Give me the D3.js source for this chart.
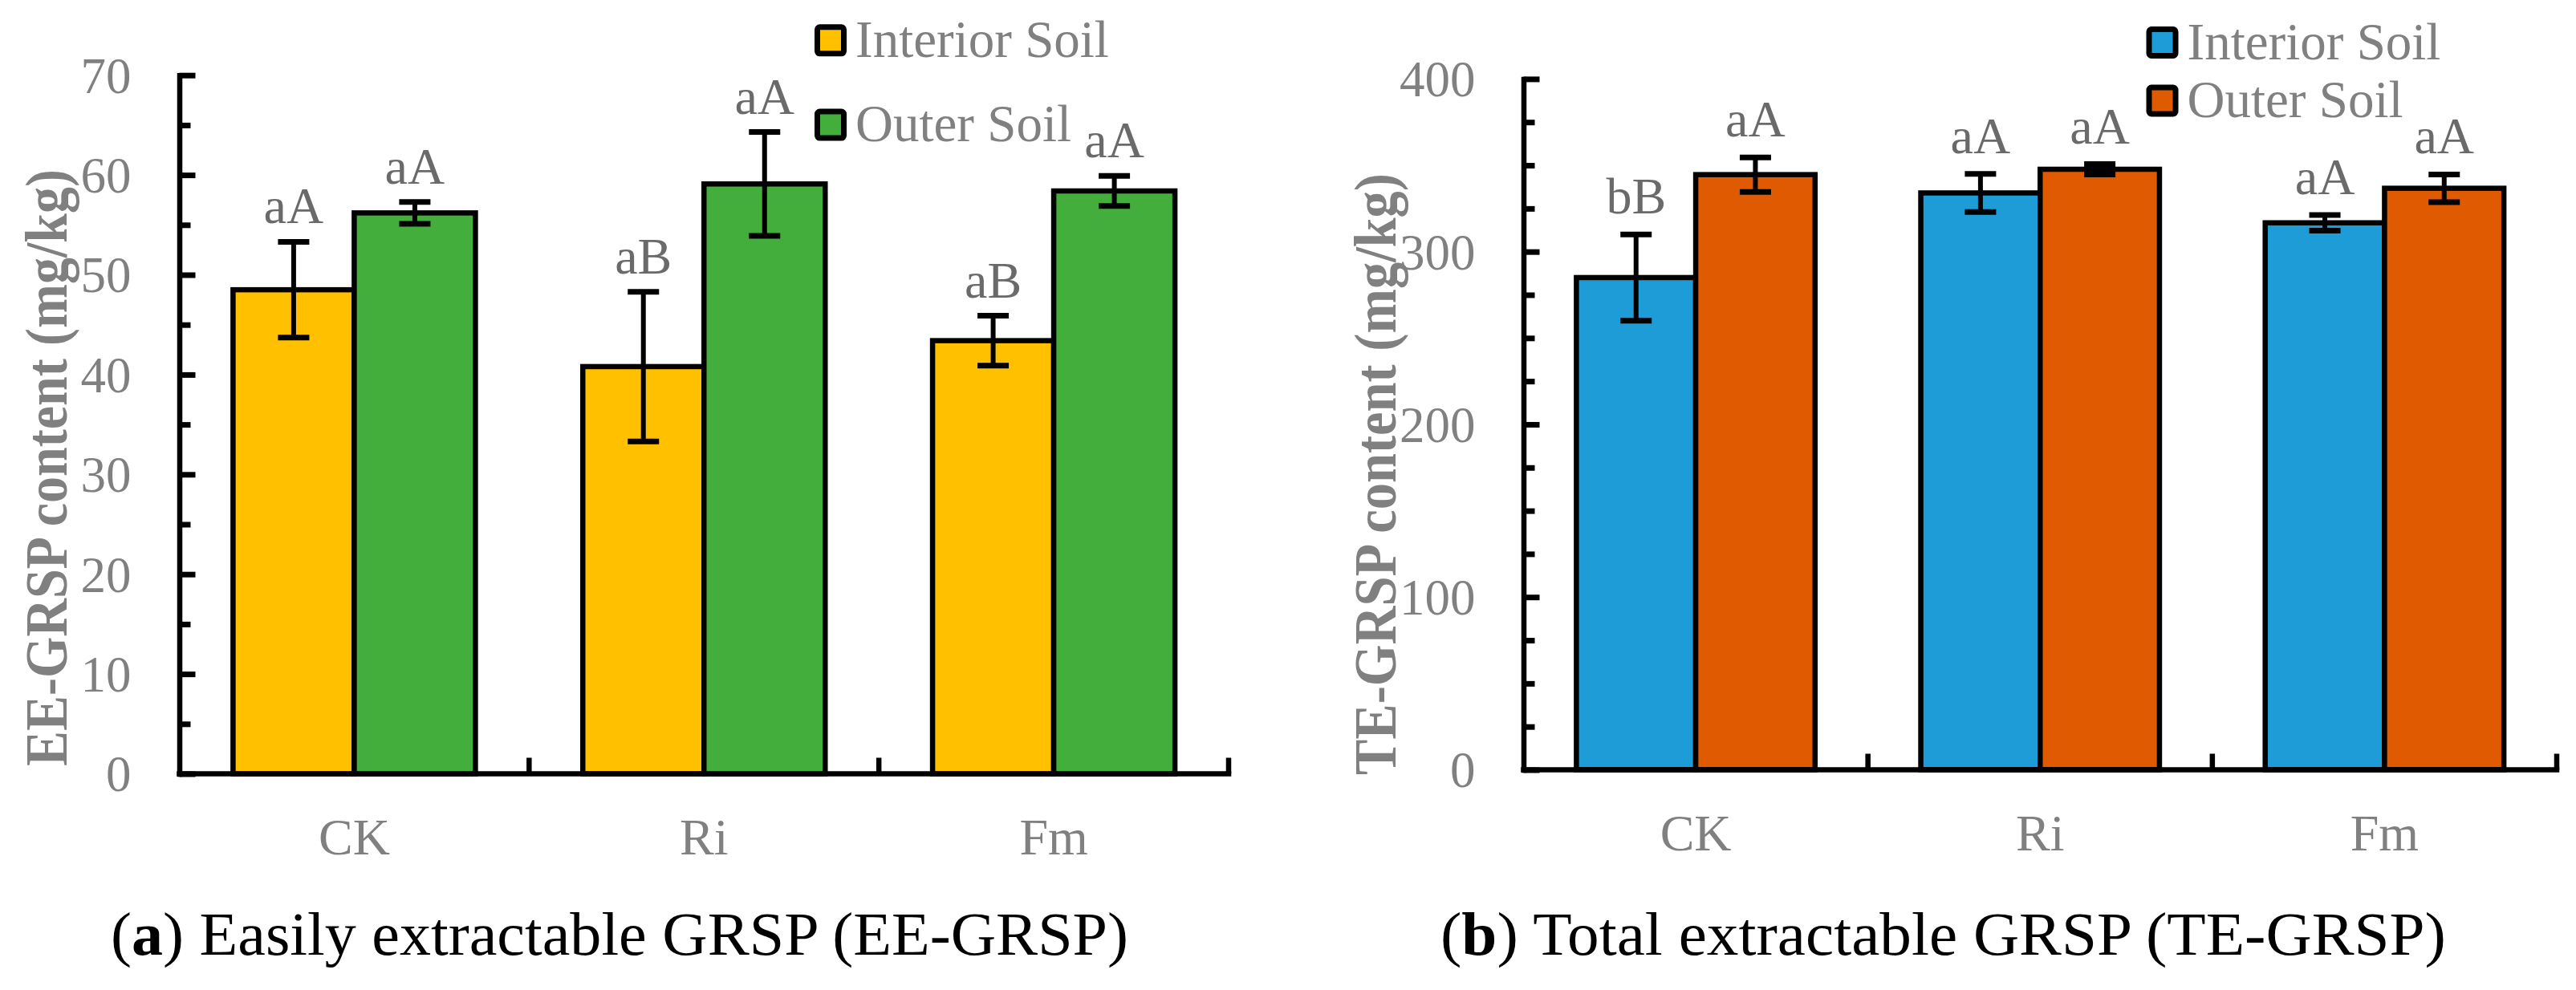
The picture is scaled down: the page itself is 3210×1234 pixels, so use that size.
<!DOCTYPE html>
<html>
<head>
<meta charset="utf-8">
<script src="https://cdn.jsdelivr.net/npm/d3@7"></script>
<style>
  body { margin: 0; background: #fff; }
  text { font-family: "Liberation Serif", "Times New Roman", serif; }
</style>
</head>
<body>
<svg id="fig" width="3210" height="1234"></svg>
<script>
// categories and series
const categories = ["CK", "Ri", "Fm"];
const series = ["Interior Soil", "Outer Soil"];

// (a) EE-GRSP, mg/kg
const eeInterior = [48.5, 40.8, 43.4];
const eeInteriorErr = [4.8, 7.5, 2.5];
const eeOuter = [56.2, 59.1, 58.4];
const eeOuterErr = [1.1, 5.2, 1.5];
const eeInteriorLetters = ["aA", "aB", "aB"];
const eeOuterLetters = ["aA", "aA", "aA"];
const eeMajorTicks = [0, 10, 20, 30, 40, 50, 60, 70];
const eeMinorTicks = [5, 15, 25, 35, 45, 55, 65];

// (b) TE-GRSP, mg/kg
const teInterior = [285, 334, 316.7];
const teInteriorErr = [25, 11, 4.5];
const teOuter = [344.6, 347.7, 336.7];
const teOuterErr = [10, 3, 8];
const teInteriorLetters = ["bB", "aA", "aA"];
const teOuterLetters = ["aA", "aA", "aA"];
const teMajorTicks = [0, 100, 200, 300, 400];
const teMinorTicks = [25, 50, 75, 125, 150, 175, 225, 250, 275, 325, 350, 375];

const svg = d3.select("#fig");
const lw = 6.5;

const drawPanel = (props) => {
  const { x0, x1, yTop, yBottom, yMax, colors, interior, interiorErr, outer, outerErr,
          intLetters, outLetters, major, minor, yTitle, titleX, titleY, titleLen,
          legendX, legendY, legendGap, letterGap, caption, captionX, captionLen } = props;

  const g = svg.append("g");

  const x = d3.scaleBand().domain(categories).range([x0, x1]).padding(0);
  const pairW = x.bandwidth() * 0.693;
  const xs = d3.scaleBand().domain(series).range([0, pairW]);
  const y = d3.scaleLinear().domain([0, yMax]).range([yBottom, yTop]);
  const color = d3.scaleOrdinal().domain(series).range(colors);

  const rows = categories.flatMap((c, i) => [
    { c, s: series[0], v: interior[i], e: interiorErr[i], lab: intLetters[i] },
    { c, s: series[1], v: outer[i], e: outerErr[i], lab: outLetters[i] },
  ]);
  const bx = (d) => x(d.c) + (x.bandwidth() - pairW) / 2 + xs(d.s);

  // bars
  g.selectAll(".bar").data(rows).enter().append("rect")
    .attr("x", bx)
    .attr("y", (d) => y(d.v))
    .attr("width", xs.bandwidth())
    .attr("height", (d) => y(0) - y(d.v))
    .attr("fill", (d) => color(d.s))
    .attr("stroke", "#000")
    .attr("stroke-width", lw);

  // error bars
  const cx = (d) => bx(d) + xs.bandwidth() / 2;
  g.selectAll(".err").data(rows).enter().append("line")
    .attr("x1", cx).attr("x2", cx)
    .attr("y1", (d) => y(d.v + d.e)).attr("y2", (d) => y(d.v - d.e))
    .attr("stroke", "#000").attr("stroke-width", 6);
  ["top", "bot"].forEach((k) => {
    g.selectAll(".cap-" + k).data(rows).enter().append("line")
      .attr("x1", (d) => cx(d) - 19.5).attr("x2", (d) => cx(d) + 19.5)
      .attr("y1", (d) => y(k === "top" ? d.v + d.e : d.v - d.e))
      .attr("y2", (d) => y(k === "top" ? d.v + d.e : d.v - d.e))
      .attr("stroke", "#000").attr("stroke-width", 7);
  });

  // significance letters
  g.selectAll(".lab").data(rows).enter().append("text")
    .attr("x", cx)
    .attr("y", (d) => y(d.v + d.e) - letterGap)
    .attr("text-anchor", "middle")
    .attr("font-size", 64)
    .attr("fill", "#6a6a6a")
    .text((d) => d.lab);

  // y axis, major and minor ticks pointing inward
  const yAxis = g.append("g").attr("transform", `translate(${x0},0)`)
    .call(d3.axisLeft(y).tickValues(major).tickSizeInner(-20).tickSizeOuter(0).tickPadding(60));
  yAxis.select(".domain").attr("stroke-width", lw).attr("stroke-linecap", "square");
  yAxis.selectAll(".tick line").attr("stroke-width", 7);
  yAxis.selectAll(".tick text")
    .attr("font-size", 63)
    .attr("fill", "#808080")
    .attr("font-family", "Liberation Serif, Times New Roman, serif")
    .attr("dy", "0.34em");

  const yMinor = g.append("g").attr("transform", `translate(${x0},0)`)
    .call(d3.axisLeft(y).tickValues(minor).tickSizeInner(-14).tickSizeOuter(0).tickFormat(""));
  yMinor.select(".domain").remove();
  yMinor.selectAll(".tick line").attr("stroke-width", 7);

  // x axis
  g.append("line")
    .attr("x1", x0 - lw / 2).attr("x2", x1 + lw / 2)
    .attr("y1", y(0)).attr("y2", y(0))
    .attr("stroke", "#000").attr("stroke-width", lw);
  g.selectAll(".xtick").data(categories).enter().append("line")
    .attr("x1", (c) => x(c) + x.bandwidth()).attr("x2", (c) => x(c) + x.bandwidth())
    .attr("y1", y(0)).attr("y2", y(0) - 20)
    .attr("stroke", "#000").attr("stroke-width", lw);
  g.selectAll(".xlab").data(categories).enter().append("text")
    .attr("x", (c) => x(c) + x.bandwidth() / 2)
    .attr("y", y(0) + 100)
    .attr("text-anchor", "middle")
    .attr("font-size", 64)
    .attr("fill", "#808080")
    .text((c) => c);

  // y title
  g.append("text")
    .attr("transform", `translate(${titleX},${titleY}) rotate(-90)`)
    .attr("text-anchor", "middle")
    .attr("font-size", 74)
    .attr("font-weight", "bold")
    .attr("fill", "#808080")
    .attr("textLength", titleLen)
    .attr("lengthAdjust", "spacingAndGlyphs")
    .text(yTitle);

  // legend
  const leg = g.selectAll(".leg").data(series).enter().append("g")
    .attr("transform", (d, i) => `translate(${legendX},${legendY + i * legendGap})`);
  leg.append("rect")
    .attr("x", -16.5).attr("y", -16.5).attr("width", 33).attr("height", 33)
    .attr("rx", 3)
    .attr("fill", (d) => color(d))
    .attr("stroke", "#000").attr("stroke-width", 7);
  leg.append("text")
    .attr("x", 31).attr("y", 20.5)
    .attr("font-size", 65)
    .attr("fill", "#808080")
    .text((d) => d);

  // caption
  const cap = g.append("text")
    .attr("x", captionX).attr("y", 1190)
    .attr("text-anchor", "middle")
    .attr("font-size", 76)
    .attr("fill", "#000")
    .attr("textLength", captionLen)
    .attr("lengthAdjust", "spacingAndGlyphs");
  cap.append("tspan").text("(");
  cap.append("tspan").attr("font-weight", "bold").text(caption[0]);
  cap.append("tspan").text(") " + caption[1]);
};

drawPanel({
  x0: 223.5, x1: 1531, yTop: 93.7, yBottom: 964.5, yMax: 70,
  colors: ["#FFC000", "#44AE3C"],
  interior: eeInterior, interiorErr: eeInteriorErr, outer: eeOuter, outerErr: eeOuterErr,
  intLetters: eeInteriorLetters, outLetters: eeOuterLetters,
  major: eeMajorTicks, minor: eeMinorTicks,
  yTitle: "EE-GRSP content (mg/kg)", titleX: 83, titleY: 583, titleLen: 744,
  legendX: 1035, legendY: 50.3, legendGap: 105.3, letterGap: 23,
  caption: ["a", "Easily extractable GRSP (EE-GRSP)"], captionX: 772, captionLen: 1268,
});

drawPanel({
  x0: 1898.5, x1: 3186, yTop: 98.4, yBottom: 959.5, yMax: 400,
  colors: ["#1E9CD8", "#E05A02"],
  interior: teInterior, interiorErr: teInteriorErr, outer: teOuter, outerErr: teOuterErr,
  intLetters: teInteriorLetters, outLetters: teOuterLetters,
  major: teMajorTicks, minor: teMinorTicks,
  yTitle: "TE-GRSP content (mg/kg)", titleX: 1739, titleY: 591, titleLen: 750,
  legendX: 2694.5, legendY: 53, legendGap: 72.5, letterGap: 26,
  caption: ["b", "Total extractable GRSP (TE-GRSP)"], captionX: 2421.5, captionLen: 1253,
});
</script>
</body>
</html>
